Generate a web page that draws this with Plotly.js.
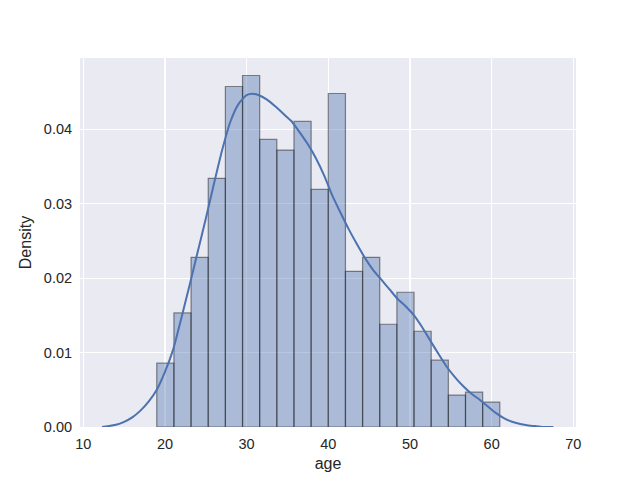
<!DOCTYPE html>
<html>
<head>
<meta charset="utf-8">
<script src="https://cdn.plot.ly/plotly-3.0.1.min.js"></script>
<style>html,body{margin:0;padding:0;background:#fff;}#chart{width:640px;height:480px;}</style>
</head>
<body>
<div id="chart"></div>
<script>
// Histogram bin edges (age) and density per bin
var binEdges = [19.0, 21.1, 23.2, 25.3, 27.4, 29.5, 31.6, 33.7, 35.8, 37.9, 40.0,
                42.1, 44.2, 46.3, 48.4, 50.5, 52.6, 54.7, 56.8, 58.9, 61.0];
var binDensity = [0.00858, 0.01533, 0.02281, 0.03342, 0.04577, 0.04725, 0.03866, 0.03722, 0.04107, 0.03194,
                  0.04483, 0.02093, 0.02281, 0.01381, 0.01811, 0.01287, 0.00898, 0.00428, 0.00468, 0.00334];

// KDE curve
var kdeAge = [12.3, 13.0, 14.0, 15.0, 16.0, 17.0, 18.0, 19.0, 20.0, 21.0, 22.0, 23.0, 24.0, 25.0, 26.0,
              27.0, 28.0, 29.0, 30.0, 30.7, 31.5, 32.5, 33.5, 34.5, 35.5, 36.5, 37.5, 38.5, 39.5,
              40.5, 41.5, 42.5, 43.5, 44.5, 45.5, 46.5, 47.5, 48.5, 49.5, 50.5, 51.5, 52.5, 53.5,
              54.5, 55.5, 56.5, 57.5, 58.5, 59.5, 60.5, 61.5, 62.5, 63.5, 64.5, 65.5, 66.5, 67.55];
var kdeDensity = [0.0000, 0.0001, 0.0003, 0.0007, 0.0013, 0.0022, 0.0034, 0.0050, 0.0074, 0.0104, 0.0146, 0.0190,
                  0.0235, 0.0280, 0.0327, 0.0372, 0.0410, 0.0434, 0.0446, 0.0448, 0.0446, 0.0440, 0.0431,
                  0.0421, 0.0411, 0.0396, 0.0380, 0.0361, 0.0338, 0.0311, 0.0288, 0.0266, 0.0246, 0.0227,
                  0.0211, 0.0198, 0.0185, 0.0172, 0.0162, 0.0150, 0.0134, 0.0116, 0.0098, 0.0081, 0.0067,
                  0.0055, 0.0045, 0.0037, 0.0028, 0.0019, 0.0012, 0.0007, 0.0004, 0.0002, 0.0001, 0.0000, 0.0000];

var xTicks = [10, 20, 30, 40, 50, 60, 70];
var yTicks = [0.00, 0.01, 0.02, 0.03, 0.04];

var centers = [], widths = [];
for (var i = 0; i < binDensity.length; i++) {
  centers.push((binEdges[i] + binEdges[i + 1]) / 2);
  widths.push(binEdges[i + 1] - binEdges[i]);
}

var bars = {
  type: 'bar', x: centers, y: binDensity, width: widths,
  marker: { color: 'rgba(76,114,176,0.4)', line: { color: 'rgba(30,30,30,0.5)', width: 1.2 } },
  hoverinfo: 'x+y', showlegend: false
};
var kde = {
  type: 'scatter', mode: 'lines', x: kdeAge, y: kdeDensity,
  line: { color: '#4C72B0', width: 2, shape: 'spline', smoothing: 0.6 },
  showlegend: false
};

var font = { family: 'Liberation Sans, Arial, sans-serif', size: 14.5, color: '#262626' };
var layout = {
  width: 640, height: 480,
  margin: { l: 80, r: 64, t: 57.6, b: 52.8 },
  paper_bgcolor: '#ffffff', plot_bgcolor: '#EAEAF2',
  font: font,
  bargap: 0,
  xaxis: {
    range: [9.6, 70.33], tickvals: xTicks, ticktext: xTicks.map(String),
    showgrid: true, gridcolor: '#ffffff', gridwidth: 1.3, zeroline: false, showline: false,
    ticks: 'outside', ticklen: 4, tickcolor: 'rgba(0,0,0,0)',
    title: { text: 'age', font: { size: 16, color: '#262626' }, standoff: 6 }
  },
  yaxis: {
    range: [0, 0.0496], tickvals: yTicks, ticktext: yTicks.map(function (v) { return v.toFixed(2); }),
    showgrid: true, gridcolor: '#ffffff', gridwidth: 1.3, zeroline: false, showline: false,
    ticks: 'outside', ticklen: 4, tickcolor: 'rgba(0,0,0,0)',
    title: { text: 'Density', font: { size: 16, color: '#262626' }, standoff: 8 }
  }
};
Plotly.newPlot('chart', [bars, kde], layout, { displayModeBar: false, staticPlot: true });
</script>
</body>
</html>
